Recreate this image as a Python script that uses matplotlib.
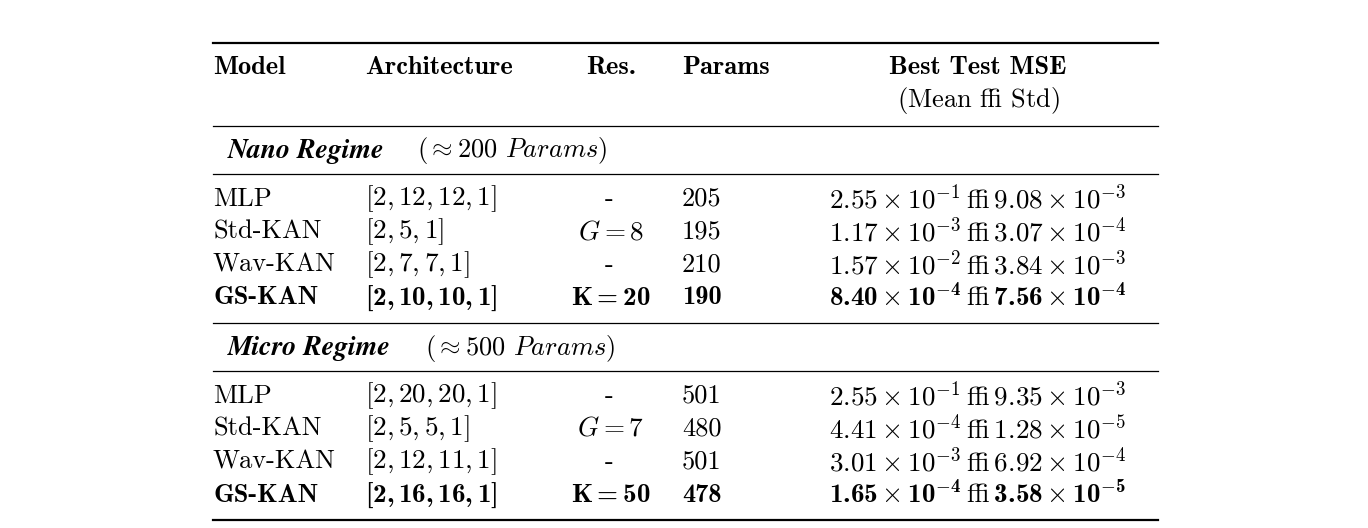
import matplotlib
matplotlib.use("Agg")
import matplotlib.pyplot as plt
from matplotlib.lines import Line2D

plt.rcParams['mathtext.fontset'] = 'custom'
plt.rcParams['mathtext.rm'] = 'cmr10'
plt.rcParams['mathtext.it'] = 'cmmi10'
plt.rcParams['mathtext.bf'] = 'cmb10'
plt.rcParams['mathtext.fallback'] = 'cm'
plt.rcParams['axes.unicode_minus'] = False

# data
models = ['MLP', 'Std-KAN', 'Wav-KAN', 'GS-KAN']
nano_arch = ['[2,12,12,1]', '[2,5,1]', '[2,7,7,1]', '[2,10,10,1]']
nano_res = ['-', 'G=8', '-', 'K=20']
nano_params = [205, 195, 210, 190]
nano_mean = [(2.55, -1), (1.17, -3), (1.57, -2), (8.40, -4)]
nano_std = [(9.08, -3), (3.07, -4), (3.84, -3), (7.56, -4)]
micro_arch = ['[2,20,20,1]', '[2,5,5,1]', '[2,12,11,1]', '[2,16,16,1]']
micro_res = ['-', 'G=7', '-', 'K=50']
micro_params = [501, 480, 501, 478]
micro_mean = [(2.55, -1), (4.41, -4), (3.01, -3), (1.65, -4)]
micro_std = [(9.35, -3), (1.28, -5), (6.92, -4), (3.58, -5)]

W, H = 1368, 528
fig = plt.figure(figsize=(W / 100, H / 100), dpi=100)
FS = 19
MFS = 19.5
RM = dict(family='cmr10', fontsize=FS)
BF = dict(family='cmb10', fontsize=FS)

def tx(x, y, s, ha='left', **kw):
    fig.text(x / W, 1 - y / H, s, ha=ha, va='center', **kw)

def hline(y, lw):
    fig.add_artist(Line2D([213 / W, 1158 / W], [1 - y / H] * 2, color='black', lw=lw))

def sci(m, e, bold):
    if bold:
        return r'\mathbf{%.2f}\times\mathbf{10}^{\mathbf{%d}}' % (m, e)
    return r'%.2f\times10^{%d}' % (m, e)

hline(43, 1.6)
hline(126, 0.9)
hline(174, 0.9)
hline(323, 0.9)
hline(371, 0.9)
hline(520, 1.6)

tx(213, 68, 'Model', **BF)
tx(365, 68, 'Architecture', **BF)
tx(611, 68, 'Res.', ha='center', **BF)
tx(682, 68, 'Params', **BF)
tx(978, 68, 'Best Test MSE', ha='center', **BF)
tx(978, 101, r'(Mean $\pm$ Std)', ha='center', **RM)

def section(y0, title, approx, arch, res, params, mean, std):
    tx(228, y0, title, family='STIXGeneral', style='italic', weight='bold', fontsize=FS + 1)
    tx(417 if approx == 200 else 425, y0, r'($\approx$%d $Params$)' % approx, **RM)
    for i in range(4):
        y = y0 + 48 + 33 * i
        bold = i == 3
        f = BF if bold else RM
        tx(213, y, models[i], **f)
        a = arch[i].replace(',', ', ')
        tx(365, y, r'$\mathbf{%s}$' % a if bold else r'$%s$' % a, fontsize=MFS)
        r = res[i]
        if r == '-':
            tx(609, y, '-', ha='center', **RM)
        elif bold:
            tx(611, y, r'$\mathbf{%s}$' % r.replace('=', ' = '), ha='center', fontsize=MFS)
        else:
            tx(611, y, r'$%s$' % r.replace('=', ' = '), ha='center', fontsize=MFS)
        tx(682, y, str(params[i]), **f)
        s = r'$%s \pm %s$' % (sci(*mean[i], bold), sci(*std[i], bold))
        tx(978, y, s, ha='center', fontsize=MFS)

section(151, 'Nano Regime', 200, nano_arch, nano_res, nano_params, nano_mean, nano_std)
section(348, 'Micro Regime', 500, micro_arch, micro_res, micro_params, micro_mean, micro_std)

fig.savefig('out.png', dpi=100)
